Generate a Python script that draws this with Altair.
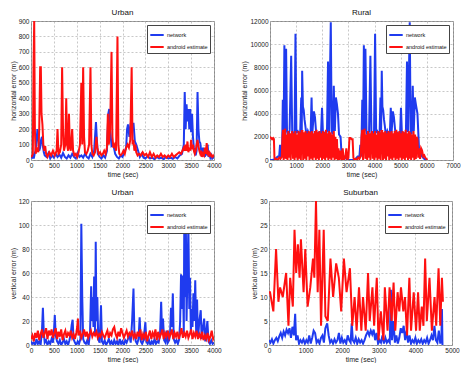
import altair as alt
import pandas as pd

# ---------------- data ----------------
# Panel 1: Urban, horizontal error
uh_net_t = [0,20,40,60,80,100,120,140,160,180,200,220,240,260,280,300,340,380,420,460,500,540,580,620,660,700,740,780,820,860,900,940,980,1020,1060,1100,1140,1180,1220,1260,1300,1340,1380,1420,1440,1460,1500,1540,1580,1620,1660,1690,1710,1730,1760,1800,1840,1880,1920,1960,2000,2040,2080,2100,2120,2150,2180,2210,2240,2270,2300,2340,2380,2420,2460,2500,2550,2600,2650,2700,2750,2800,2850,2900,2950,3000,3050,3100,3150,3200,3250,3300,3340,3360,3380,3400,3420,3440,3460,3480,3500,3520,3540,3560,3580,3600,3620,3640,3660,3680,3700,3720,3740,3760,3780,3800,3820,3840,3860,3880,3900,3920,3940,3960,3980,4000]
uh_net_v = [20,15,30,10,40,60,120,200,150,60,80,130,150,90,50,30,20,45,10,30,15,40,20,35,15,45,20,10,30,15,40,20,10,45,20,30,15,40,20,10,40,20,60,245,130,40,20,10,30,15,60,300,330,200,90,100,40,20,10,30,20,50,80,200,230,150,240,200,240,120,100,60,20,40,15,10,25,10,15,5,20,10,15,5,20,10,15,8,20,10,30,40,100,440,200,360,250,330,200,330,180,300,150,80,50,30,60,440,200,120,110,60,40,80,40,20,60,30,100,20,40,15,30,10,20,10]
uh_and_t = [0,20,40,55,70,85,100,120,140,160,180,200,215,230,250,270,290,310,330,360,400,440,480,520,560,580,600,630,660,680,700,720,750,770,790,810,830,850,870,900,920,950,980,1010,1040,1070,1100,1120,1140,1160,1180,1210,1240,1270,1300,1320,1340,1370,1400,1430,1450,1480,1510,1540,1570,1600,1630,1660,1680,1700,1730,1760,1780,1800,1830,1860,1890,1910,1930,1960,1990,2020,2050,2080,2110,2140,2170,2200,2220,2240,2260,2280,2300,2330,2360,2400,2440,2480,2520,2560,2600,2640,2680,2720,2760,2800,2840,2880,2920,2960,3000,3040,3080,3120,3160,3200,3240,3280,3310,3340,3360,3380,3400,3420,3440,3460,3480,3500,3520,3540,3560,3580,3600,3620,3640,3660,3680,3700,3720,3740,3760,3780,3800,3820,3840,3860,3880,3900,3920,3940,3960,3980,4000]
uh_and_v = [20,25,40,600,900,200,40,60,80,50,200,600,600,300,230,100,60,90,40,20,50,30,60,30,60,200,40,50,100,600,200,60,100,400,100,60,300,80,60,200,60,30,40,20,50,100,500,100,600,150,50,40,60,100,600,100,40,30,50,150,80,40,50,30,40,60,40,80,300,100,200,700,150,80,100,60,800,100,40,30,40,60,40,80,100,80,130,600,100,130,60,100,50,30,40,30,50,30,40,20,50,20,40,15,30,20,40,20,30,15,30,20,40,20,30,40,50,40,60,80,60,100,60,120,50,80,60,130,70,100,60,40,60,100,130,90,60,40,60,20,40,30,80,40,110,30,60,20,40,30,20,30,20]

# Panel 2: Rural, horizontal error
rh_net_t = [0,100,200,300,350,385,420,460,490,520,550,580,616,650,700,750,810,850,900,940,975,1010,1060,1100,1150,1195,1215,1230,1260,1290,1320,1350,1400,1450,1500,1550,1590,1620,1680,1720,1760,1800,1850,1900,1950,1990,2030,2080,2130,2180,2220,2260,2325,2360,2400,2440,2480,2520,2560,2600,2640,2700,2740,2800,2850,2900,2950,3000,3100,3200,3280,3350,3420,3455,3490,3530,3560,3590,3620,3650,3690,3740,3790,3840,3880,3930,3980,4020,4060,4100,4150,4190,4225,4250,4275,4300,4330,4360,4390,4440,4490,4540,4580,4620,4650,4700,4740,4790,4840,4890,4940,4975,5010,5050,5100,5150,5200,5240,5280,5345,5380,5420,5460,5500,5540,5580,5640,5680,5700,5740,5780,5820,5860,5900,5950,6000]
rh_net_v = [0,0,100,300,300,1300,300,300,5200,2000,9900,2600,9600,2500,2000,2600,9000,2300,2100,2500,10900,2400,2500,2300,2000,5400,2500,7700,4600,4300,3500,3000,2000,2500,2200,2000,5400,2300,4200,3700,2500,2000,2300,2000,2200,4500,2000,2300,2100,2500,8500,2400,11900,2500,2200,6400,2500,5400,4800,4000,2200,2000,300,300,300,200,0,0,0,0,100,300,300,1300,300,5200,2000,9900,2500,9600,2500,2000,2500,9000,2200,2100,2500,10900,2400,2500,2200,2000,5400,2500,7700,4600,4300,3500,3000,2000,2500,2200,2000,4500,2300,4200,3700,2500,2000,2300,2000,2200,4500,2000,2300,2100,2500,8500,2400,11900,2500,2200,6400,2500,5400,4800,4000,2000,1000,300,1000,300,200,100,50,0]
rh_and_t = [0,40,80,120,150,170,200,250,300,350,400,450,480,500,520,550,580,600,640,670,700,730,760,790,820,850,880,910,940,970,1000,1030,1060,1090,1120,1150,1180,1210,1240,1270,1300,1330,1360,1390,1420,1450,1480,1510,1540,1570,1600,1630,1660,1690,1720,1750,1780,1810,1840,1870,1900,1930,1960,1990,2020,2050,2080,2110,2140,2170,2200,2230,2260,2290,2320,2350,2380,2410,2440,2470,2500,2530,2560,2590,2620,2650,2700,2740,2780,2820,2880,2920,2960,3000,3040,3080,3120,3160,3190,3220,3270,3320,3370,3420,3470,3500,3530,3560,3590,3620,3650,3690,3720,3750,3780,3810,3840,3870,3900,3930,3960,3990,4020,4050,4080,4110,4140,4170,4200,4230,4260,4290,4320,4350,4380,4410,4440,4470,4500,4530,4560,4590,4620,4650,4680,4710,4740,4770,4800,4830,4860,4890,4920,4950,4980,5010,5040,5070,5100,5130,5160,5190,5220,5250,5280,5310,5340,5370,5400,5430,5460,5490,5520,5550,5580,5610,5640,5670,5700,5740,5780,5820,5860,5900,5940,5980,6020]
rh_and_v = [2000,1900,1800,1900,1800,200,0,100,0,200,100,300,2000,2600,0,2400,2700,100,2200,0,2500,200,2300,0,2100,2500,100,2300,0,2500,200,2200,0,2500,100,2400,0,2500,2500,0,2400,100,2500,0,2300,300,2500,0,2400,100,2500,0,2300,200,2500,0,2600,100,2400,0,2500,200,2300,0,2500,100,2400,0,2600,200,2300,0,2500,100,2400,0,2200,200,2500,0,2000,100,1800,0,1000,0,800,0,1000,0,200,1000,0,200,1900,1900,1800,1800,200,0,100,0,200,100,300,2000,2600,0,2400,2700,100,2200,0,2500,200,2300,0,2100,2500,100,2300,0,2500,200,2200,0,2500,100,2400,0,2500,2500,0,2400,100,2500,0,2300,300,2500,0,2400,100,2500,0,2300,200,2500,0,2600,100,2400,0,2500,200,2300,0,2500,100,2400,0,2600,200,2300,0,2500,100,2400,0,2200,200,2500,0,2200,100,2000,1800,200,1000,100,1000,800,300,400,200,100,0]

# Panel 3: Urban, vertical error
uv_net_t = [0,30,60,90,120,150,180,210,240,260,280,300,330,360,390,420,450,480,500,520,540,570,600,630,660,690,720,750,780,810,840,870,890,910,930,960,990,1020,1050,1080,1100,1120,1140,1170,1200,1230,1260,1290,1315,1330,1350,1365,1380,1400,1415,1430,1450,1470,1500,1530,1550,1580,1610,1640,1670,1700,1730,1760,1790,1820,1850,1880,1910,1940,1970,2000,2030,2060,2090,2120,2150,2180,2210,2240,2260,2290,2320,2350,2375,2400,2430,2460,2500,2520,2550,2580,2610,2640,2670,2700,2730,2760,2790,2820,2845,2865,2885,2910,2940,2970,2990,3020,3040,3060,3080,3100,3120,3150,3180,3210,3240,3260,3280,3300,3320,3340,3350,3370,3385,3400,3420,3440,3460,3475,3495,3510,3530,3550,3570,3590,3610,3630,3650,3680,3710,3730,3760,3785,3810,3830,3855,3880,3910,3940,3970,4000]
uv_net_v = [3,1,2,0,5,1,3,0,12,31,10,2,4,0,3,1,5,2,10,25,8,3,1,4,0,2,5,1,3,0,4,10,17,21,5,2,0,3,1,5,101,40,5,2,1,4,0,10,49,20,40,15,57,10,86,20,40,5,2,33,3,1,4,0,2,5,1,3,0,4,1,3,0,5,1,3,0,4,2,5,8,2,20,47,10,3,1,5,23,3,1,4,19,3,1,4,0,3,1,5,1,3,2,8,36,10,22,4,2,12,2,4,10,31,15,43,5,2,4,1,5,20,59,30,58,10,101,40,101,20,60,99,30,56,10,30,15,43,20,54,10,38,5,20,29,5,15,22,3,10,20,3,1,4,1,2]
uv_and_t = [0,30,60,90,120,150,180,210,240,270,300,330,360,390,420,450,480,510,540,570,600,630,660,690,720,750,780,810,840,870,900,930,960,990,1010,1025,1040,1070,1100,1130,1160,1190,1220,1250,1280,1310,1340,1370,1400,1430,1460,1490,1520,1550,1580,1610,1640,1670,1700,1730,1760,1790,1820,1850,1880,1910,1940,1970,2000,2030,2060,2090,2120,2150,2180,2210,2240,2270,2300,2330,2360,2390,2420,2450,2480,2510,2540,2570,2600,2630,2660,2690,2720,2750,2780,2810,2840,2870,2900,2930,2960,2990,3020,3050,3080,3110,3140,3170,3200,3230,3260,3290,3320,3350,3380,3410,3440,3470,3500,3530,3560,3590,3620,3650,3680,3710,3740,3770,3800,3830,3860,3890,3920,3950,3980,4000]
uv_and_v = [5,8,3,10,6,12,4,9,13,6,10,14,5,12,8,13,6,10,14,5,11,7,13,4,9,12,6,10,8,12,6,9,5,10,15,22,8,12,6,9,13,7,11,6,9,12,7,10,8,11,6,9,7,11,8,6,9,12,6,10,8,13,15,9,6,11,7,14,10,6,9,12,7,10,8,12,6,9,5,11,7,13,4,9,6,11,3,8,12,5,10,7,13,4,11,6,9,13,5,10,7,12,6,9,13,5,10,7,11,5,9,14,6,10,7,12,6,9,13,5,10,7,12,5,9,6,11,4,8,5,10,4,7,12,5,7]

# Panel 4: Suburban, vertical error
sv_net_t = [0,40,80,120,160,200,240,280,320,360,400,440,480,520,560,600,640,680,715,740,780,820,860,900,940,980,1020,1060,1100,1140,1180,1220,1260,1300,1340,1380,1420,1460,1500,1540,1590,1630,1670,1710,1750,1790,1830,1870,1910,1950,1990,2030,2070,2110,2150,2190,2230,2260,2290,2330,2370,2410,2450,2490,2530,2570,2610,2650,2700,2740,2780,2820,2860,2900,2940,2980,3020,3060,3100,3140,3180,3220,3260,3300,3330,3360,3400,3440,3480,3520,3560,3600,3640,3680,3720,3760,3800,3840,3880,3920,3960,4000,4040,4080,4120,4160,4200,4240,4280,4320,4360,4400,4440,4480,4520,4560,4600,4640,4680,4710,4725,4740]
sv_net_v = [1,0.5,1.2,0.3,1,1.5,0.8,1.8,2.5,1.5,2.8,2,3.2,2.5,3.5,1.5,3.8,2,6.5,1,2,0.3,1,0.5,1.2,0.3,1,0.5,2,0.3,1.5,3,2.5,0.5,1,0.3,1.5,2,0.5,3.5,4.5,2,0.5,1,0.3,1.2,0.5,1,2.5,0.3,1.5,0.5,1,0.3,2,1,0.5,4.5,1,0.5,1.5,0.3,1.2,0.5,1,0.3,1,2,2.8,2,3,2.2,3.2,1,2.5,0.3,1,0.5,2,0.3,1.5,0.5,1,0.5,11.5,1,5,0.5,2,0.3,1.5,3.5,2.5,4,1,3,0.5,2,0.3,1,0.5,1.5,0.3,1,0.5,1.2,0.3,1,0.5,1.5,0.3,1,2,1,4,1,0.5,3,0.3,1,7.5,0]
sv_and_t = [0,28,73,119,193,257,303,376,468,532,578,651,697,743,789,835,872,945,991,1055,1128,1202,1239,1284,1330,1376,1422,1495,1541,1606,1679,1752,1835,1908,1972,2046,2119,2211,2275,2339,2394,2459,2523,2569,2642,2706,2752,2826,2872,2945,2991,3055,3128,3165,3239,3294,3349,3404,3450,3514,3560,3606,3670,3716,3771,3835,3881,3954,4018,4073,4119,4174,4220,4266,4312,4385,4450,4523,4569,4633,4679,4725,4752]
sv_and_v = [11,11,9,7,20,9,12,10,15,4,14,8,24,15,21,14,22,11,20,8,12,18,14,30,11,24,4,24,6,5,18,10,17,14,7,18,11,16,4,10,3,12,3,10,3,15,5,12,4,14,1,7,1,12,3,12,5,13,3,11,7,12,7,10,2,14,3,11,3,11,3,8,4,18,5,14,3,10,4,16,4,14,9]

SERIES = ["network", "android estimate"]
COLORS = ["#1f3bef", "#ff1010"]
FONT = "Liberation Sans"


def panel(net_t, net_v, and_t, and_v, xdom, xvals, ydom, yvals, title, ytitle, h):
    df_net = pd.DataFrame({"t": net_t, "v": net_v, "s": "network"})
    df_and = pd.DataFrame({"t": and_t, "v": and_v, "s": "android estimate"})
    color = alt.Color(
        "s:N",
        scale=alt.Scale(domain=SERIES, range=COLORS),
        legend=alt.Legend(
            title=None, orient="top-right", offset=4, padding=2,
            strokeColor="#444", fillColor="white",
            symbolType="stroke", symbolSize=180, symbolStrokeWidth=2,
            labelFontSize=5.5, labelFont=FONT, labelColor="#111",
            rowPadding=0, labelOffset=2, symbolOffset=0, cornerRadius=0,
        ),
    )
    x = alt.X("t:Q", scale=alt.Scale(domain=xdom, nice=False, zero=False),
              axis=alt.Axis(values=xvals, title="time (sec)", labelFlush=False,
                            labelOverlap=False, format="d"))
    y = alt.Y("v:Q", scale=alt.Scale(domain=ydom, nice=False),
              axis=alt.Axis(values=yvals, title=ytitle, labelOverlap=False, format="d"))
    l1 = alt.Chart(df_net).mark_line(strokeWidth=2, clip=True).encode(x=x, y=y, color=color)
    l2 = alt.Chart(df_and).mark_line(strokeWidth=2, clip=True).encode(x=x, y=y, color=color)
    return alt.layer(l1, l2).properties(width=183, height=h, title=title)


p1 = panel(uh_net_t, uh_net_v, uh_and_t, uh_and_v, [0, 4000], list(range(0, 4001, 500)),
           [0, 900], list(range(0, 901, 100)), "Urban", "horizontal error (m)", 139)
p2 = panel(rh_net_t, rh_net_v, rh_and_t, rh_and_v, [0, 7000], list(range(0, 7001, 1000)),
           [0, 12000], list(range(0, 12001, 2000)), "Rural", "horizontal error (m)", 139)
p3 = panel(uv_net_t, uv_net_v, uv_and_t, uv_and_v, [0, 4000], list(range(0, 4001, 500)),
           [0, 120], list(range(0, 121, 20)), "Urban", "vertical error (m)", 144)
p4 = panel(sv_net_t, sv_net_v, sv_and_t, sv_and_v, [0, 5000], list(range(0, 5001, 1000)),
           [0, 30], list(range(0, 31, 5)), "Suburban", "vertical error (m)", 144)

top = alt.hconcat(p1, p2, spacing=18).resolve_scale(color="independent").resolve_legend(color="independent")
bottom = alt.hconcat(p3, p4, spacing=28).resolve_scale(color="independent").resolve_legend(color="independent")

chart = (
    alt.vconcat(top, bottom, spacing=10)
    .resolve_scale(color="independent")
    .resolve_legend(color="independent")
    .properties(padding={"left": 0, "top": 0, "right": 0, "bottom": 0})
    .configure(font=FONT)
    .configure_view(stroke="#8a8a8a", strokeWidth=1)
    .configure_axis(
        labelFont=FONT, labelFontSize=6.5, labelColor="#222", labelPadding=2,
        titleFont=FONT, titleFontSize=7, titleFontWeight="normal", titleColor="#222",
        titlePadding=2, domain=False, ticks=False,
        grid=True, gridColor="#b0b0b0", gridDash=[2, 2], gridWidth=0.7,
    )
    .configure_title(font=FONT, fontSize=8, fontWeight="normal", color="#111", offset=1)
)

chart.save("out.html", embed_options={"renderer": "svg", "actions": False})
